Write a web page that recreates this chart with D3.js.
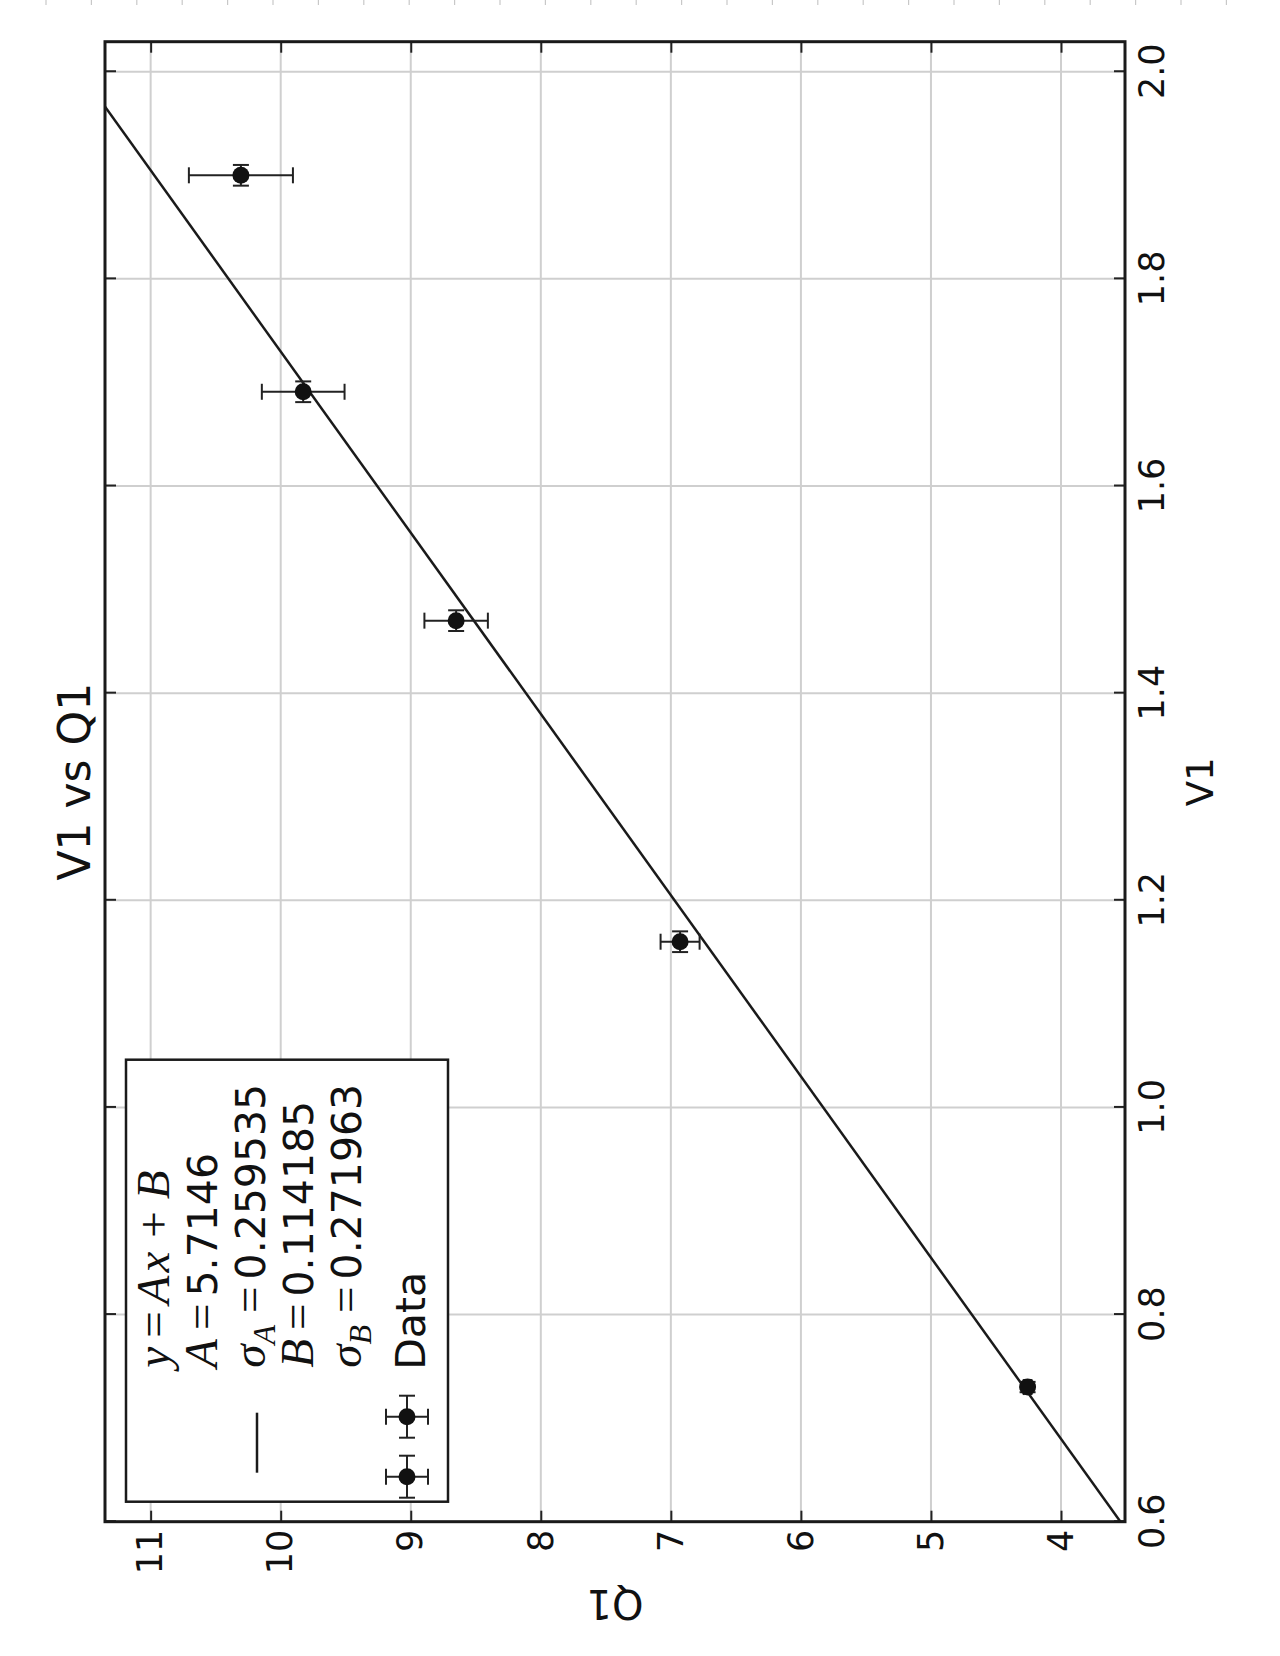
<!DOCTYPE html>
<html>
<head>
<meta charset="utf-8">
<script src="https://cdn.jsdelivr.net/npm/d3@7"></script>
<style>
  body { margin: 0; background: #fff; }
  text { font-family: "DejaVu Sans", sans-serif; fill: #111; }
</style>
</head>
<body>
<script>
// measured data (V1 on the long axis, Q1 across)
var v1 = [0.730, 1.160, 1.470, 1.691, 1.900],
	q1 = [4.257, 6.929, 8.651, 9.827, 10.306],
	v1Err = [0.005, 0.01, 0.01, 0.01, 0.01],
	q1Err = [0.03, 0.15, 0.244, 0.318, 0.40];

// fitted line end points (y = Ax + B)
var fitV1 = [0.6, 2.03],
	fitQ1 = [3.543, 11.715];

var v1Ticks = [0.6, 0.8, 1.0, 1.2, 1.4, 1.6, 1.8, 2.0],
	q1Ticks = [4, 5, 6, 7, 8, 9, 10, 11];

var title = "V1 vs Q1", xName = "V1", yName = "Q1";

var width = 1280, height = 1656;
var left = 105, bottom = 1521.7,
	W = 1480, H = 1020,
	tick = 11, cap = 8, ink = "#111";

var svg = d3.select("body")
		.append("svg")
		.attr("width", width)
		.attr("height", height);

svg.append("rect").attr("width", width).attr("height", height).attr("fill", "#fff");

// faint ruler marks along the top edge
svg.append("g")
	.selectAll("line")
	.data(d3.range(0, 27))
	.join("line")
	.attr("x1", function(d) { return 46 + d * 45.4; })
	.attr("x2", function(d) { return 46 + d * 45.4; })
	.attr("y1", 0).attr("y2", 5)
	.attr("stroke", "#c8c8c8").attr("stroke-width", 1.2);

// the whole plot is drawn normally and then turned a quarter turn
var g = svg.append("g")
		.attr("transform", "translate(" + left + "," + bottom + ") rotate(-90)");

var x = d3.scaleLinear().domain([0.6, 2.029]).range([0, W]),
	y = d3.scaleLinear().domain([3.508, 11.351]).range([H, 0]);

svg.append("defs").append("clipPath").attr("id", "clip")
	.append("rect").attr("width", W).attr("height", H);

// grid
g.append("g").selectAll("line").data(v1Ticks).join("line")
	.attr("x1", x).attr("x2", x).attr("y1", 0).attr("y2", H)
	.attr("stroke", "#cfcfcf").attr("stroke-width", 2);
g.append("g").selectAll("line").data(q1Ticks).join("line")
	.attr("y1", y).attr("y2", y).attr("x1", 0).attr("x2", W)
	.attr("stroke", "#cfcfcf").attr("stroke-width", 2);

// axes, ticks pointing inwards on all four sides
var axB = g.append("g").attr("transform", "translate(0," + H + ")")
	.call(d3.axisBottom(x).tickValues(v1Ticks).tickSize(-tick).tickPadding(14).tickFormat(d3.format(".1f")));
var axT = g.append("g")
	.call(d3.axisTop(x).tickValues(v1Ticks).tickSize(-tick).tickFormat(""));
var axL = g.append("g")
	.call(d3.axisLeft(y).tickValues(q1Ticks).tickSize(-tick).tickPadding(8).tickFormat(d3.format("d")));
var axR = g.append("g").attr("transform", "translate(" + W + ",0)")
	.call(d3.axisRight(y).tickValues(q1Ticks).tickSize(-tick).tickFormat(""));

[axB, axT, axL, axR].forEach(function(a) {
	a.select(".domain").remove();
	a.selectAll(".tick line").attr("stroke", "#222").attr("stroke-width", 2);
	a.selectAll(".tick text").attr("font-size", 35).attr("fill", ink)
		.style("font-family", "DejaVu Sans");
});

// fit line
g.append("path")
	.attr("clip-path", "url(#clip)")
	.datum(d3.zip(fitV1, fitQ1))
	.attr("d", d3.line().x(function(d) { return x(d[0]); }).y(function(d) { return y(d[1]); }))
	.attr("fill", "none").attr("stroke", "#1a1a1a").attr("stroke-width", 2.5);

// error bars
var pts = d3.range(v1.length);
var eb = g.append("g").attr("stroke", "#222").attr("stroke-width", 2);
pts.forEach(function(i) {
	var cx = x(v1[i]), cy = y(q1[i]);
	var x0 = x(v1[i] - v1Err[i]), x1 = x(v1[i] + v1Err[i]);
	var y0 = y(q1[i] - q1Err[i]), y1 = y(q1[i] + q1Err[i]);
	eb.append("line").attr("x1", x0).attr("x2", x1).attr("y1", cy).attr("y2", cy);
	eb.append("line").attr("x1", x0).attr("x2", x0).attr("y1", cy - cap).attr("y2", cy + cap);
	eb.append("line").attr("x1", x1).attr("x2", x1).attr("y1", cy - cap).attr("y2", cy + cap);
	eb.append("line").attr("x1", cx).attr("x2", cx).attr("y1", y0).attr("y2", y1);
	eb.append("line").attr("x1", cx - cap).attr("x2", cx + cap).attr("y1", y0).attr("y2", y0);
	eb.append("line").attr("x1", cx - cap).attr("x2", cx + cap).attr("y1", y1).attr("y2", y1);
});

g.append("g").selectAll("circle").data(pts).join("circle")
	.attr("cx", function(i) { return x(v1[i]); })
	.attr("cy", function(i) { return y(q1[i]); })
	.attr("r", 8.5).attr("fill", ink);

// frame
g.append("rect").attr("width", W).attr("height", H)
	.attr("fill", "none").attr("stroke", "#1a1a1a").attr("stroke-width", 3);

// labels
g.append("text").attr("x", W / 2).attr("y", -15).attr("text-anchor", "middle")
	.attr("font-size", 44).text(title);
g.append("text").attr("x", W / 2).attr("y", 1108).attr("text-anchor", "middle")
	.attr("font-size", 37).text(xName);
g.append("text").attr("transform", "translate(-68," + H / 2 + ") rotate(-90)")
	.attr("text-anchor", "middle").attr("font-size", 40).text(yName);

// legend
var leg = g.append("g");
leg.append("rect").attr("x", 20).attr("y", 21).attr("width", 442).attr("height", 322)
	.attr("fill", "#fff").attr("stroke", "#1a1a1a").attr("stroke-width", 2.5);
leg.append("line").attr("x1", 49).attr("x2", 109).attr("y1", 152).attr("y2", 152)
	.attr("stroke", "#1a1a1a").attr("stroke-width", 2.5);

[45, 105].forEach(function(mx) {
	var my = 302, e = 21;
	var h = leg.append("g").attr("stroke", "#222").attr("stroke-width", 2);
	h.append("line").attr("x1", mx - e).attr("x2", mx + e).attr("y1", my).attr("y2", my);
	h.append("line").attr("x1", mx).attr("x2", mx).attr("y1", my - e).attr("y2", my + e);
	[-e, e].forEach(function(o) {
		h.append("line").attr("x1", mx + o).attr("x2", mx + o).attr("y1", my - cap).attr("y2", my + cap);
		h.append("line").attr("y1", my + o).attr("y2", my + o).attr("x1", mx - cap).attr("x2", mx + cap);
	});
	leg.append("circle").attr("cx", mx).attr("cy", my).attr("r", 8.5).attr("fill", ink);
});

// fit label, one math line per row
var fitLines = [
	[["y", "i"], ["=", "s"], ["A", "i"], ["x", "i"], ["+", "s"], ["B", "i"]],
	[["A", "i"], ["=", "s"], ["5.7146", "n"]],
	[["σ", "i"], ["A", "b"], ["=", "s"], ["0.259535", "n"]],
	[["B", "i"], ["=", "s"], ["0.114185", "n"]],
	[["σ", "i"], ["B", "b"], ["=", "s"], ["0.271963", "n"]]
];
var rowY = [64, 112, 160, 208, 256];

fitLines.forEach(function(parts, r) {
	var t = leg.append("text").attr("x", 154).attr("y", rowY[r]).attr("font-size", 41);
	var low = false, afterOp = false;
	parts.forEach(function(p, k) {
		var s = t.append("tspan").text(p[0]);
		var dx = 0;
		if (p[1] === "i" || p[1] === "b") {
			s.style("font-family", "'Liberation Serif', serif").attr("font-style", "italic")
				.attr("font-size", p[1] === "b" ? 32 : 47);
			if (k > 0 && p[1] === "i") dx = 3;
		} else if (p[1] === "s") {
			s.style("font-family", "'Liberation Serif', serif").attr("font-size", 47);
			dx = p[0] === "+" ? 14 : 9;
			if (k > 0 && parts[k - 1][1] === "b") dx = 12;
		} else {
			s.style("font-family", "DejaVu Sans");
		}
		if (afterOp) dx = parts[k - 1][0] === "+" ? 12 : 7;
		afterOp = p[1] === "s";
		s.attr("dx", dx);
		if (p[1] === "b") { s.attr("dy", 10); low = true; }
		else if (low) { s.attr("dy", -10); low = false; }
	});
});

leg.append("text").attr("x", 152).attr("y", 320).attr("font-size", 41).text("Data");
</script>
</body>
</html>
